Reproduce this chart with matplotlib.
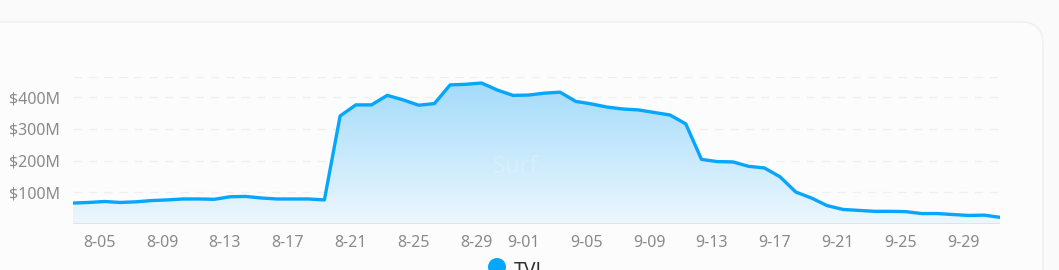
import numpy as np
import matplotlib
matplotlib.use("Agg")
import matplotlib.pyplot as plt
import matplotlib.dates as mdates
from matplotlib.patches import FancyBboxPatch, Circle
from matplotlib.colors import LinearSegmentedColormap
import datetime as dt

# ---- data ----
start_date = "2024-08-03"
tvl_musd = [66, 68, 71, 68, 70, 74, 76, 79, 79, 78,
            86, 87, 82, 79, 79, 79, 76, 341, 376, 376,
            406, 392, 375, 380, 439, 441, 445, 423, 406, 407,
            413, 416, 387, 379, 369, 363, 360, 352, 344, 316,
            204, 197, 196, 182, 177, 149, 101, 82, 58, 46,
            43, 40, 40, 39, 33, 33, 30, 27, 28, 21]
tick_dates = ["2024-08-05", "2024-08-09", "2024-08-13", "2024-08-17", "2024-08-21",
              "2024-08-25", "2024-08-29", "2024-09-01", "2024-09-05", "2024-09-09",
              "2024-09-13", "2024-09-17", "2024-09-21", "2024-09-25", "2024-09-29"]
tick_labels = ["8-05", "8-09", "8-13", "8-17", "8-21", "8-25", "8-29", "9-01",
               "9-05", "9-09", "9-13", "9-17", "9-21", "9-25", "9-29"]
y_ticks = [100, 200, 300, 400]
y_tick_labels = ["$100M", "$200M", "$300M", "$400M"]
y_max = 464
series_name = "TVL"

# ---- figure ----
W, H = 1059, 270
plt.rcParams['font.family'] = ['Noto Sans', 'DejaVu Sans']
fig = plt.figure(figsize=(W / 100, H / 100), dpi=100)
fig.patch.set_facecolor("#fafafa")

# background / decoration axes in pixel coordinates
bg = fig.add_axes([0, 0, 1, 1], zorder=-5)
bg.set_xlim(0, W)
bg.set_ylim(H, 0)
bg.axis("off")
card = FancyBboxPatch((-30, 22), 1043 + 30, 300,
                      boxstyle="round,pad=0,rounding_size=22",
                      facecolor="#fcfcfc", edgecolor="#eeeeee", linewidth=1.0)
bg.add_patch(card)

ax = fig.add_axes([73 / W, (H - 224) / H, (1000 - 73) / W, (224 - 77) / H], zorder=1)
ax.set_facecolor("none")

d0 = mdates.date2num(dt.datetime.fromisoformat(start_date))
x = d0 + np.arange(len(tvl_musd)) + 1 / 3.0
y = np.array(tvl_musd, dtype=float)

# grid
for v in y_ticks + [y_max]:
    ax.axhline(v, color="#efefef", linewidth=1, linestyle=(0, (6, 5)), zorder=0)

# gradient fill
poly = ax.fill_between(x, 0, y, facecolor="none", edgecolor="none")
cmap = LinearSegmentedColormap.from_list("g", ["#ecf7fe", "#a4dbfa"])
grad = np.linspace(0, 1, 256).reshape(-1, 1)
im = ax.imshow(grad, cmap=cmap, aspect="auto", origin="lower",
               extent=[x[0], x[-1], 0, y.max()], zorder=1)
im.set_clip_path(poly.get_paths()[0], transform=ax.transData)
ax.set_xlim(x[0], x[-1])
ax.set_ylim(0, y_max)

ax.axhline(0, color="#e0e0e0", linewidth=1.2, zorder=2)
ax.plot(x, y, color="#05a6fc", linewidth=2.4, zorder=3, solid_joinstyle="round")

for s in ax.spines.values():
    s.set_visible(False)

tick_x = [mdates.date2num(dt.datetime.fromisoformat(t)) for t in tick_dates]
ax.set_xticks(tick_x)
ax.set_xticklabels(tick_labels)
ax.set_yticks(y_ticks)
ax.set_yticklabels(y_tick_labels)
ax.tick_params(axis="both", length=0, labelsize=11.5, colors="#8a8a8a")
ax.tick_params(axis="x", pad=8)
ax.tick_params(axis="y", pad=9.5)

# watermark
ax.text(0.478, 0.39, "Surf", transform=ax.transAxes, fontsize=17, color="#ffffff",
        alpha=0.18, ha="center", va="center", fontweight="bold", zorder=2)

# legend
bg.add_patch(Circle((497, 267), 9, facecolor="#05a6fc", edgecolor="none"))
bg.text(514, 271, series_name, fontsize=14, color="#333333", ha="left", va="center")

fig.savefig("out.png", dpi=100, facecolor=fig.get_facecolor())
